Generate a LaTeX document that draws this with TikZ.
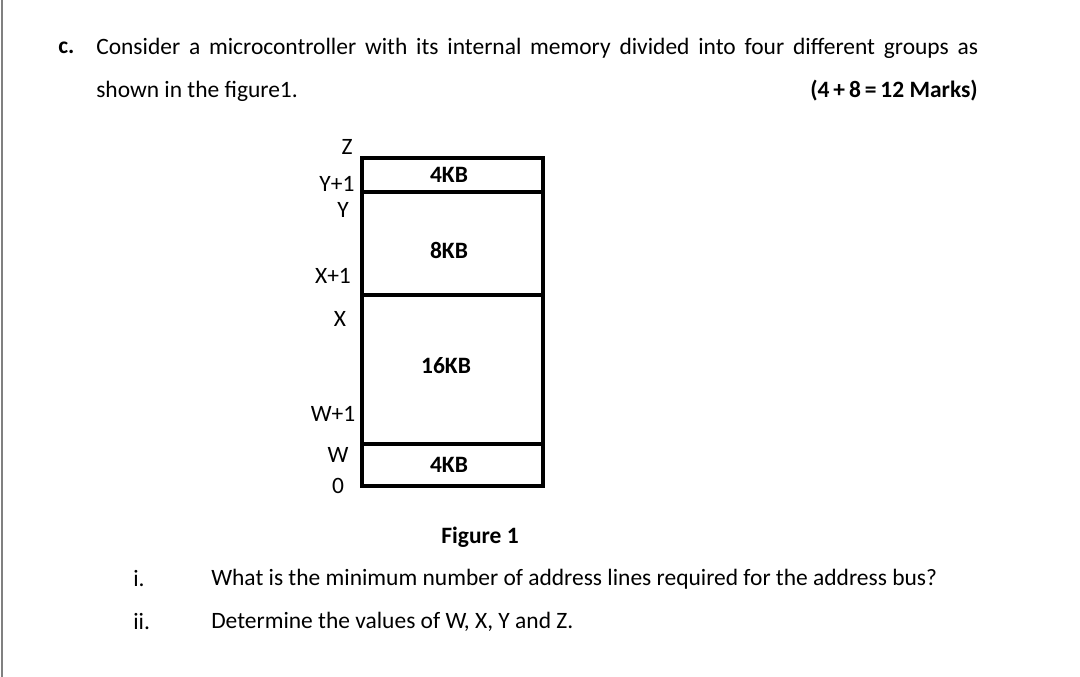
\documentclass[tikz,border=0pt]{standalone}
\usepackage{fontspec}
\setmainfont{Carlito}
\begin{document}
\begin{tikzpicture}[x=0.75pt,y=-0.75pt,
  t/.style={inner sep=0pt,font=\fontsize{17.6}{19}\selectfont},
  lb/.style={t,anchor=center},
  bf/.style={font=\fontsize{17.6}{19}\selectfont\bfseries},
  box/.style={line width=2.4pt}]
\useasboundingbox (0,0) rectangle (1080,677);
\fill[white] (0,0) rectangle (1080,677);
\draw[line width=1pt,gray] (2,0) -- (2,677);
\node[t,anchor=west,bf] (c) at (58,48) {c.};
\node[t,anchor=west] (l1) at (96,48) {\makebox[661.5pt][s]{Consider a microcontroller with its internal memory divided into four different groups as}};
\node[t,anchor=west] (l2) at (96,91) {shown in the figure1.};
\node[t,anchor=east,bf] (mk) at (978,91) {(4\,+\,8\,=\,12 Marks)};
\draw[box] (362,158) rectangle (543,486);
\draw[box] (362,192) -- (543,192);
\draw[box] (362,295) -- (543,295);
\draw[box] (362,444) -- (543,444);
\node[lb,bf] (a) at (449,175) {4KB};
\node[lb,bf] (b) at (449,250) {8KB};
\node[lb,bf] (cc) at (446,366) {16KB};
\node[lb,bf] (d) at (449,465) {4KB};
\node[lb] (z) at (347,147) {Z};
\node[lb] (y1) at (337,184) {Y+1};
\node[lb] (y) at (343,210) {Y};
\node[lb] (x1) at (333,276) {X+1};
\node[lb] (x) at (340,319) {X};
\node[lb] (w1) at (333,414) {W+1};
\node[lb] (w) at (338,455) {W};
\node[lb] (o) at (338,486) {0};
\node[lb,bf] (f) at (480,537) {Figure 1};
\node[t,anchor=west] (i) at (133,579) {i.};
\node[t,anchor=west] (q1) at (211,579) {What is the minimum number of address lines required for the address bus?};
\node[t,anchor=west] (ii) at (133,622) {ii.};
\node[t,anchor=west] (q2) at (211,622) {Determine the values of W, X, Y and Z.};
\end{tikzpicture}
\end{document}
